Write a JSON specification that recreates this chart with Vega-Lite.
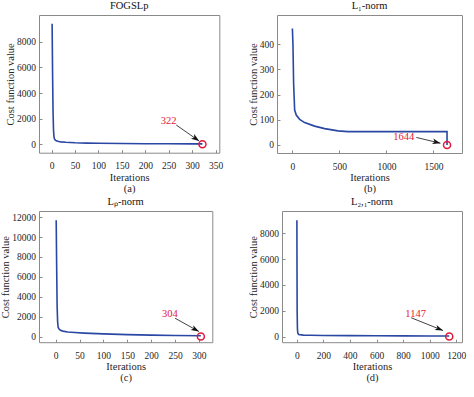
{
  "$schema": "https://vega.github.io/schema/vega-lite/v6.json",
  "background": "white",
  "padding": {"left": 0, "top": 0, "right": 0, "bottom": 0},
  "spacing": 1,
  "config": {
    "view": {"stroke": "#8a8a8a", "strokeWidth": 1},
    "font": "Liberation Serif",
    "axis": {
      "grid": false,
      "domain": false,
      "labelFont": "Liberation Serif",
      "labelFontSize": 9.5,
      "labelColor": "#262626",
      "labelOverlap": false,
      "format": "d",
      "titleFont": "Liberation Serif",
      "titleFontSize": 10.5,
      "titleFontWeight": "normal",
      "titleColor": "#262626",
      "tickColor": "#8a8a8a",
      "tickSize": -3
    },
    "axisY": {"titlePadding": 1, "labelPadding": 6.5},
    "axisX": {"titlePadding": 2, "titleLineHeight": 11, "labelPadding": 11},
    "title": {"font": "Liberation Serif", "fontSize": 10.5, "fontWeight": "normal", "color": "#111", "offset": 4},
    "line": {"color": "#2a47a3", "strokeWidth": 1.6},
    "rule": {"color": "#111", "strokeWidth": 0.8},
    "text": {"color": "#e3173a", "font": "Liberation Serif", "fontSize": 10.5}
  },
  "datasets": {
    "curveA": [
      {"i": 1, "iter": 1, "cost": 9400}, {"i": 2, "iter": 2, "cost": 5500}, {"i": 3, "iter": 3, "cost": 2500},
      {"i": 4, "iter": 4, "cost": 1100}, {"i": 5, "iter": 5, "cost": 600}, {"i": 6, "iter": 6, "cost": 420},
      {"i": 7, "iter": 8, "cost": 320}, {"i": 8, "iter": 10, "cost": 270}, {"i": 9, "iter": 15, "cost": 220},
      {"i": 10, "iter": 20, "cost": 190}, {"i": 11, "iter": 30, "cost": 160}, {"i": 12, "iter": 50, "cost": 120},
      {"i": 13, "iter": 75, "cost": 95}, {"i": 14, "iter": 100, "cost": 80}, {"i": 15, "iter": 150, "cost": 60},
      {"i": 16, "iter": 200, "cost": 48}, {"i": 17, "iter": 250, "cost": 40}, {"i": 18, "iter": 300, "cost": 33},
      {"i": 19, "iter": 322, "cost": 30}
    ],
    "endA": [{"iter": 322, "cost": 0}],
    "labA": [{"iter": 250, "cost": 1817, "label": "322"}],
    "arrowA": [{"iter": 315, "cost": 257, "iter2": 266, "cost2": 1505}],
    "curveB": [
      {"i": 1, "iter": 1, "cost": 463}, {"i": 2, "iter": 7, "cost": 400}, {"i": 3, "iter": 14, "cost": 245},
      {"i": 4, "iter": 25, "cost": 139}, {"i": 5, "iter": 42, "cost": 119}, {"i": 6, "iter": 78, "cost": 102},
      {"i": 7, "iter": 131, "cost": 89}, {"i": 8, "iter": 237, "cost": 75}, {"i": 9, "iter": 344, "cost": 65},
      {"i": 10, "iter": 485, "cost": 56}, {"i": 11, "iter": 592, "cost": 53}, {"i": 12, "iter": 1644, "cost": 53},
      {"i": 13, "iter": 1644, "cost": 0}
    ],
    "endB": [{"iter": 1644, "cost": 0}],
    "labB": [{"iter": 1184, "cost": 33, "label": "1644"}],
    "arrowB": [{"iter": 1574, "cost": 7, "iter2": 1318, "cost2": 30}],
    "curveC": [
      {"i": 1, "iter": 1, "cost": 11700}, {"i": 2, "iter": 2, "cost": 7000}, {"i": 3, "iter": 3, "cost": 3000},
      {"i": 4, "iter": 4, "cost": 1500}, {"i": 5, "iter": 5, "cost": 950}, {"i": 6, "iter": 7, "cost": 750},
      {"i": 7, "iter": 10, "cost": 620}, {"i": 8, "iter": 15, "cost": 540}, {"i": 9, "iter": 25, "cost": 460},
      {"i": 10, "iter": 40, "cost": 400}, {"i": 11, "iter": 60, "cost": 340}, {"i": 12, "iter": 100, "cost": 260},
      {"i": 13, "iter": 150, "cost": 190}, {"i": 14, "iter": 200, "cost": 140}, {"i": 15, "iter": 250, "cost": 100},
      {"i": 16, "iter": 304, "cost": 70}
    ],
    "endC": [{"iter": 304, "cost": 0}],
    "labC": [{"iter": 239, "cost": 2283, "label": "304"}],
    "arrowC": [{"iter": 300, "cost": 503, "iter2": 250, "cost2": 1840}],
    "curveD": [
      {"i": 1, "iter": 1, "cost": 9000}, {"i": 2, "iter": 2, "cost": 5000}, {"i": 3, "iter": 3, "cost": 2000},
      {"i": 4, "iter": 5, "cost": 600}, {"i": 5, "iter": 8, "cost": 250}, {"i": 6, "iter": 15, "cost": 150},
      {"i": 7, "iter": 50, "cost": 110}, {"i": 8, "iter": 100, "cost": 95}, {"i": 9, "iter": 200, "cost": 80},
      {"i": 10, "iter": 400, "cost": 65}, {"i": 11, "iter": 600, "cost": 55}, {"i": 12, "iter": 800, "cost": 45},
      {"i": 13, "iter": 1000, "cost": 40}, {"i": 14, "iter": 1147, "cost": 35}
    ],
    "endD": [{"iter": 1147, "cost": 0}],
    "labD": [{"iter": 894, "cost": 1757, "label": "1147"}],
    "arrowD": [{"iter": 1100, "cost": 465, "iter2": 861, "cost2": 1450}]
  },
  "vconcat": [
    {
      "bounds": "flush",
      "spacing": 57,
      "hconcat": [
        {
          "width": 180.3, "height": 137.7,
          "title": {"text": "FOGSLp"},
          "encoding": {
            "x": {"field": "iter", "type": "quantitative", "scale": {"domain": [-27, 358], "nice": false, "zero": false},
                  "axis": {"values": [0, 50, 100, 150, 200, 250, 300, 350], "title": ["Iterations", "(a)"]}},
            "y": {"field": "cost", "type": "quantitative", "scale": {"domain": [-655, 10082], "nice": false, "zero": false},
                  "axis": {"values": [0, 2000, 4000, 6000, 8000], "title": "Cost function value"}}
          },
          "layer": [
            {"data": {"name": "curveA"}, "mark": {"type": "line"}, "encoding": {"order": {"field": "i"}}},
            {"data": {"name": "arrowA"}, "mark": {"type": "rule"}, "encoding": {"x2": {"field": "iter2"}, "y2": {"field": "cost2"}}},
            {"data": {"name": "arrowA"}, "mark": {"type": "point", "shape": "M0,0L-2,-0.7L-1.5,0L-2,0.7Z", "filled": true, "color": "#111", "opacity": 1, "size": 64, "angle": 35}},
            {"data": {"name": "endA"}, "mark": {"type": "point", "shape": "circle", "filled": false, "stroke": "#e3173a", "strokeWidth": 1.5, "opacity": 1, "size": 50}},
            {"data": {"name": "labA"}, "mark": {"type": "text"}, "encoding": {"text": {"field": "label"}}}
          ]
        },
        {
          "width": 185, "height": 138,
          "title": {"text": "L₁-norm"},
          "encoding": {
            "x": {"field": "iter", "type": "quantitative", "scale": {"domain": [-162.5, 1803], "nice": false, "zero": false},
                  "axis": {"values": [0, 500, 1000, 1500], "title": ["Iterations", "(b)"]}},
            "y": {"field": "cost", "type": "quantitative", "scale": {"domain": [-31.8, 516.5], "nice": false, "zero": false},
                  "axis": {"values": [0, 100, 200, 300, 400], "title": "Cost function value"}}
          },
          "layer": [
            {"data": {"name": "curveB"}, "mark": {"type": "line"}, "encoding": {"order": {"field": "i"}}},
            {"data": {"name": "arrowB"}, "mark": {"type": "rule"}, "encoding": {"x2": {"field": "iter2"}, "y2": {"field": "cost2"}}},
            {"data": {"name": "arrowB"}, "mark": {"type": "point", "shape": "M0,0L-2,-0.7L-1.5,0L-2,0.7Z", "filled": true, "color": "#111", "opacity": 1, "size": 64, "angle": 14}},
            {"data": {"name": "endB"}, "mark": {"type": "point", "shape": "circle", "filled": false, "stroke": "#e3173a", "strokeWidth": 1.5, "opacity": 1, "size": 50}},
            {"data": {"name": "labB"}, "mark": {"type": "text"}, "encoding": {"text": {"field": "label"}}}
          ]
        }
      ]
    },
    {
      "bounds": "flush",
      "spacing": 69,
      "hconcat": [
        {
          "width": 173.3, "height": 131.2,
          "title": {"text": "Lₚ-norm"},
          "encoding": {
            "x": {"field": "iter", "type": "quantitative", "scale": {"domain": [-35, 328], "nice": false, "zero": false},
                  "axis": {"values": [0, 50, 100, 150, 200, 250, 300], "title": ["Iterations", "(c)"]}},
            "y": {"field": "cost", "type": "quantitative", "scale": {"domain": [-573, 12623], "nice": false, "zero": false},
                  "axis": {"values": [0, 2000, 4000, 6000, 8000, 10000, 12000], "title": "Cost function value"}}
          },
          "layer": [
            {"data": {"name": "curveC"}, "mark": {"type": "line"}, "encoding": {"order": {"field": "i"}}},
            {"data": {"name": "arrowC"}, "mark": {"type": "rule"}, "encoding": {"x2": {"field": "iter2"}, "y2": {"field": "cost2"}}},
            {"data": {"name": "arrowC"}, "mark": {"type": "point", "shape": "M0,0L-2,-0.7L-1.5,0L-2,0.7Z", "filled": true, "color": "#111", "opacity": 1, "size": 64, "angle": 29}},
            {"data": {"name": "endC"}, "mark": {"type": "point", "shape": "circle", "filled": false, "stroke": "#e3173a", "strokeWidth": 1.5, "opacity": 1, "size": 50}},
            {"data": {"name": "labC"}, "mark": {"type": "text"}, "encoding": {"text": {"field": "label"}}}
          ]
        },
        {
          "width": 180, "height": 131.2,
          "title": {"text": "L₂,₁-norm"},
          "encoding": {
            "x": {"field": "iter", "type": "quantitative", "scale": {"domain": [-111, 1243], "nice": false, "zero": false},
                  "axis": {"values": [0, 200, 400, 600, 800, 1000, 1200], "title": ["Iterations", "(d)"]}},
            "y": {"field": "cost", "type": "quantitative", "scale": {"domain": [-441, 9719], "nice": false, "zero": false},
                  "axis": {"values": [0, 2000, 4000, 6000, 8000], "title": "Cost function value"}}
          },
          "layer": [
            {"data": {"name": "curveD"}, "mark": {"type": "line"}, "encoding": {"order": {"field": "i"}}},
            {"data": {"name": "arrowD"}, "mark": {"type": "rule"}, "encoding": {"x2": {"field": "iter2"}, "y2": {"field": "cost2"}}},
            {"data": {"name": "arrowD"}, "mark": {"type": "point", "shape": "M0,0L-2,-0.7L-1.5,0L-2,0.7Z", "filled": true, "color": "#111", "opacity": 1, "size": 64, "angle": 22}},
            {"data": {"name": "endD"}, "mark": {"type": "point", "shape": "circle", "filled": false, "stroke": "#e3173a", "strokeWidth": 1.5, "opacity": 1, "size": 50}},
            {"data": {"name": "labD"}, "mark": {"type": "text"}, "encoding": {"text": {"field": "label"}}}
          ]
        }
      ]
    }
  ]
}
